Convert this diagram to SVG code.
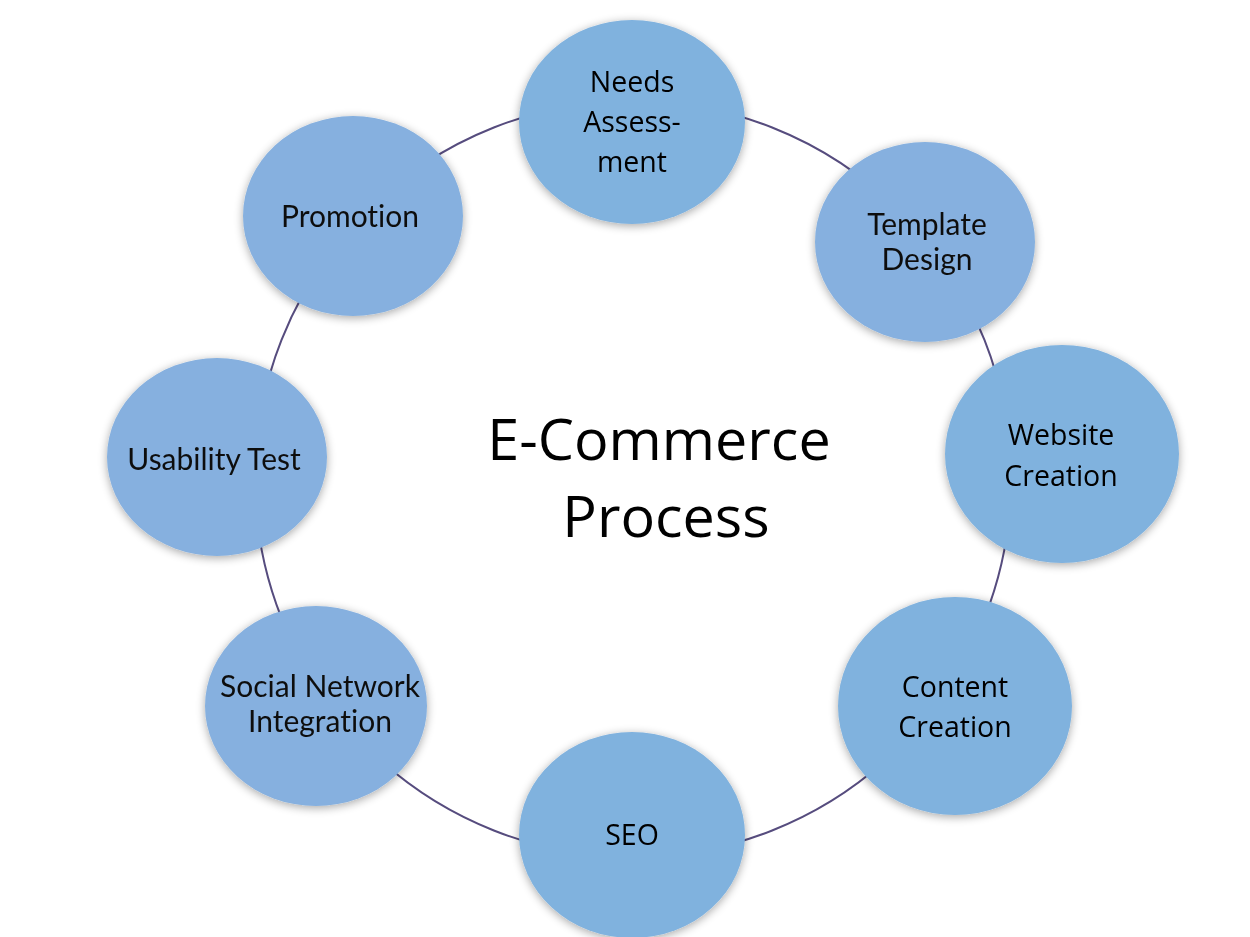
<svg xmlns="http://www.w3.org/2000/svg" width="1250" height="937" viewBox="0 0 1250 937">
<style>
.a{fill:#86B0DF}
.b{fill:#80B2DE}
text{font-variant-ligatures:none}
.la{font-family:Lato,"Open Sans",sans-serif;font-size:30px;fill:#111;text-anchor:middle}
.ca{font-family:"Open Sans","Liberation Sans",sans-serif;font-size:28.5px;fill:#000;text-anchor:middle}
.t{font-family:"Open Sans","Liberation Sans",sans-serif;font-size:57.5px;fill:#000;text-anchor:middle}
</style>
<defs>
<filter id="sh" x="-20%" y="-20%" width="140%" height="140%">
<feGaussianBlur in="SourceAlpha" stdDeviation="5"/>
<feOffset dx="0" dy="2" result="o"/>
<feComponentTransfer><feFuncA type="linear" slope="0.35"/></feComponentTransfer>
<feMerge><feMergeNode/><feMergeNode in="SourceGraphic"/></feMerge>
</filter>
</defs>
<rect width="1250" height="937" fill="#fff"/>
<g id="connectors">
<circle cx="633" cy="479" r="378" fill="none" stroke="#564C7E" stroke-width="2"/>
</g>
<g id="needs" filter="url(#sh)">
<ellipse class="b" cx="632" cy="122" rx="113" ry="102"/>
<text class="ca" x="632" y="92">Needs</text>
<text class="ca" x="632" y="132">Assess-</text>
<text class="ca" x="632" y="172">ment</text>
</g>
<g id="template" filter="url(#sh)">
<ellipse class="a" cx="925" cy="242" rx="110" ry="100"/>
<text class="la" x="927" y="235">Template</text>
<text class="la" x="927" y="270">Design</text>
</g>
<g id="website" filter="url(#sh)">
<ellipse class="b" cx="1062" cy="454" rx="117" ry="109"/>
<text class="ca" x="1061" y="445">Website</text>
<text class="ca" x="1061" y="486">Creation</text>
</g>
<g id="content" filter="url(#sh)">
<ellipse class="b" cx="955" cy="706" rx="117" ry="109"/>
<text class="ca" x="955" y="697">Content</text>
<text class="ca" x="955" y="737">Creation</text>
</g>
<g id="seo" filter="url(#sh)">
<ellipse class="b" cx="632" cy="835" rx="113" ry="103"/>
<text class="ca" x="632" y="845">SEO</text>
</g>
<g id="social" filter="url(#sh)">
<ellipse class="a" cx="316" cy="706" rx="111" ry="100"/>
<text class="la" x="320" y="697">Social Network</text>
<text class="la" x="320" y="732">Integration</text>
</g>
<g id="usability" filter="url(#sh)">
<ellipse class="a" cx="217" cy="457" rx="110" ry="99"/>
<text class="la" x="214" y="470">Usability Test</text>
</g>
<g id="promotion" filter="url(#sh)">
<ellipse class="a" cx="353" cy="216" rx="110" ry="100"/>
<text class="la" x="350" y="227">Promotion</text>
</g>
<g id="title">
<text class="t" x="659" y="460">E-Commerce</text>
<text class="t" x="666" y="537">Process</text>
</g>
</svg>
